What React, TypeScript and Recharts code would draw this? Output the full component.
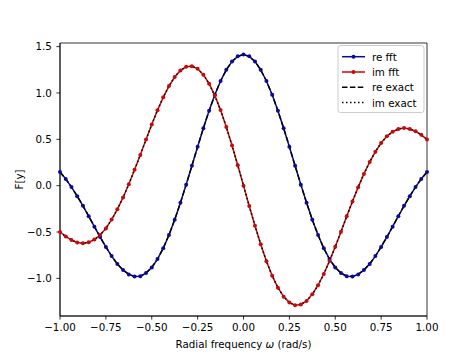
import React from "react";
import { LineChart, Line, XAxis, YAxis, ReferenceArea } from "recharts";

// radial frequency samples (rad/s)
const omega = [
  -1, -0.96875, -0.9375, -0.90625, -0.875, -0.84375, -0.8125, -0.78125, -0.75, -0.71875, -0.6875,
  -0.65625, -0.625, -0.59375, -0.5625, -0.53125, -0.5, -0.46875, -0.4375, -0.40625, -0.375,
  -0.34375, -0.3125, -0.28125, -0.25, -0.21875, -0.1875, -0.15625, -0.125, -0.09375, -0.0625,
  -0.03125, 0, 0.03125, 0.0625, 0.09375, 0.125, 0.15625, 0.1875, 0.21875, 0.25, 0.28125, 0.3125,
  0.34375, 0.375, 0.40625, 0.4375, 0.46875, 0.5, 0.53125, 0.5625, 0.59375, 0.625, 0.65625, 0.6875,
  0.71875, 0.75, 0.78125, 0.8125, 0.84375, 0.875, 0.90625, 0.9375, 0.96875, 1,
];

const reValues = [
  0.148, 0.073, -0.015, -0.113, -0.217, -0.329, -0.442, -0.554, -0.661, -0.76, -0.844, -0.91,
  -0.957, -0.979, -0.976, -0.943, -0.882, -0.792, -0.675, -0.533, -0.368, -0.185, 0.011, 0.214,
  0.419, 0.62, 0.808, 0.98, 1.129, 1.25, 1.34, 1.395, 1.414, 1.395, 1.34, 1.25, 1.129, 0.98, 0.808,
  0.62, 0.419, 0.214, 0.011, -0.185, -0.368, -0.533, -0.675, -0.792, -0.882, -0.943, -0.976, -0.979,
  -0.957, -0.91, -0.844, -0.76, -0.661, -0.554, -0.442, -0.329, -0.217, -0.113, -0.015, 0.073, 0.148,
];

// imaginary part
const imValues = [
  -0.499, -0.548, -0.587, -0.612, -0.621, -0.611, -0.582, -0.532, -0.461, -0.366, -0.255, -0.127,
  0.016, 0.171, 0.331, 0.497, 0.659, 0.813, 0.953, 1.074, 1.172, 1.243, 1.282, 1.289, 1.261, 1.197,
  1.1, 0.972, 0.815, 0.633, 0.433, 0.22, 0, -0.22, -0.433, -0.633, -0.815, -0.972, -1.1, -1.197,
  -1.261, -1.289, -1.282, -1.243, -1.172, -1.074, -0.953, -0.813, -0.659, -0.497, -0.331, -0.171,
  -0.016, 0.127, 0.255, 0.366, 0.461, 0.532, 0.582, 0.611, 0.621, 0.612, 0.587, 0.548, 0.499,
];

const xTicks = [-1, -0.75, -0.5, -0.25, 0, 0.25, 0.5, 0.75, 1];
const yTicks = [-1, -0.5, 0, 0.5, 1, 1.5];

const data = omega.map((w, i) => ({
  w,
  reFft: reValues[i],
  imFft: imValues[i],
  reExact: reValues[i],
  imExact: imValues[i],
}));

const BLUE = "#0b0b9a";
const RED = "#c40a0a";
const Y_MIN = -1.406;
const Y_MAX = 1.539;

const minus = (s: string) => s.replace("-", "\u2212");

const legendRows = [
  { name: "re fft", color: BLUE, dash: undefined, dot: true },
  { name: "im fft", color: RED, dash: undefined, dot: true },
  { name: "re exact", color: "#000", dash: "5.5 2.4", dot: false },
  { name: "im exact", color: "#000", dash: "1.5 2.5", dot: false },
];

export default function App() {
  const tickStyle = { fill: "#000", fontSize: 10.3 };
  return (
    <div
      style={{
        position: "absolute",
        left: 0,
        top: 0,
        width: 474,
        height: 355,
        background: "#fff",
        fontFamily: "DejaVu Sans",
      }}
    >
      <LineChart width={474} height={355} data={data} margin={{ top: 43, right: 47, bottom: 9, left: 10 }}>
        <XAxis
          dataKey="w"
          type="number"
          domain={[-1, 1]}
          ticks={xTicks}
          tickFormatter={(v: number) => minus(v.toFixed(2))}
          height={30}
          tick={tickStyle}
          tickSize={3.6}
          tickMargin={3.6}
          axisLine={{ stroke: "#000", strokeWidth: 0.8 }}
          tickLine={{ stroke: "#000", strokeWidth: 0.8 }}
        />
        <YAxis
          type="number"
          domain={[Y_MIN, Y_MAX]}
          ticks={yTicks}
          tickFormatter={(v: number) => minus(v.toFixed(1))}
          width={50}
          tick={tickStyle}
          tickSize={3.6}
          tickMargin={4.5}
          axisLine={{ stroke: "#000", strokeWidth: 0.8 }}
          tickLine={{ stroke: "#000", strokeWidth: 0.8 }}
          allowDataOverflow
        />
        <Line
          dataKey="reFft"
          type="linear"
          stroke={BLUE}
          strokeWidth={1.5}
          dot={{ r: 2, fill: BLUE, stroke: "none" }}
          activeDot={false}
          isAnimationActive={false}
        />
        <Line
          dataKey="imFft"
          type="linear"
          stroke={RED}
          strokeWidth={1.5}
          dot={{ r: 2, fill: RED, stroke: "none" }}
          activeDot={false}
          isAnimationActive={false}
        />
        <Line
          dataKey="reExact"
          type="linear"
          stroke="#000"
          strokeWidth={1.5}
          strokeDasharray="5.5 2.4"
          dot={false}
          activeDot={false}
          isAnimationActive={false}
        />
        <Line
          dataKey="imExact"
          type="linear"
          stroke="#000"
          strokeWidth={1.5}
          strokeDasharray="1.5 2.5"
          dot={false}
          activeDot={false}
          isAnimationActive={false}
        />
        <ReferenceArea x1={-1} x2={1} y1={Y_MIN} y2={Y_MAX} fill="none" stroke="#000" strokeWidth={0.8} ifOverflow="visible" />
      </LineChart>

      {/* axis titles and legend */}
      <svg width={474} height={355} style={{ position: "absolute", left: 0, top: 0, pointerEvents: "none" }}>
        <text x={243.5} y={347.5} textAnchor="middle" fontSize={10.3} fill="#000">
          Radial frequency <tspan fontStyle="italic">ω</tspan> (rad/s)
        </text>
        <text
          x={18.7}
          y={179.5}
          textAnchor="middle"
          dominantBaseline="central"
          fontSize={10.3}
          fill="#000"
          transform="rotate(-90 18.7 179.5)"
        >
          F[y]
        </text>
        <rect x={338} y={45.5} width={86} height={67} rx={2.5} fill="rgba(255,255,255,0.8)" stroke="#cccccc" strokeWidth={1} />
        {legendRows.map((r, i) => {
          const y = 56.7 + i * 15.3;
          return (
            <g key={r.name}>
              <line x1={342} x2={365} y1={y} y2={y} stroke={r.color} strokeWidth={1.5} strokeDasharray={r.dash} />
              {r.dot && <circle cx={353.5} cy={y} r={2} fill={r.color} />}
              <text x={372} y={y} dominantBaseline="central" fontSize={10.3} fill="#000">
                {r.name}
              </text>
            </g>
          );
        })}
      </svg>
    </div>
  );
}
